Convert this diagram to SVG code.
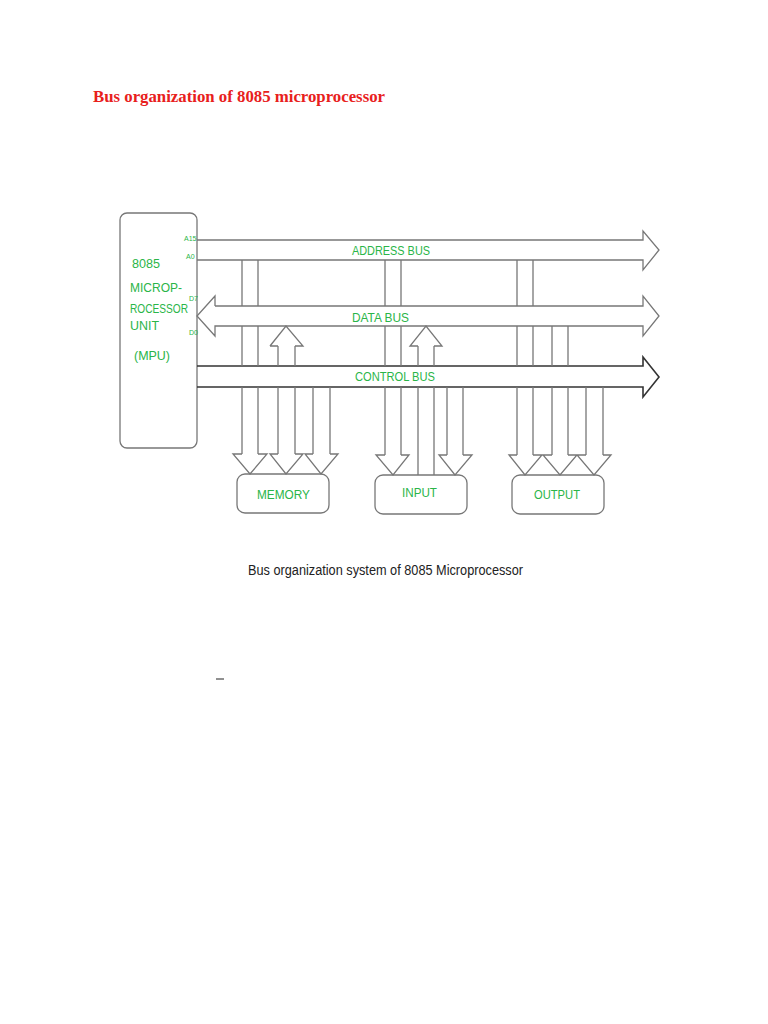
<svg xmlns="http://www.w3.org/2000/svg" width="768" height="1024" viewBox="0 0 768 1024">
<style>
.l{fill:none;stroke:#777;stroke-width:1.3}
.c{fill:none;stroke:#333;stroke-width:1.6}
.g{fill:#2ab548;font-family:"Liberation Sans",Arial,sans-serif;font-size:13px}
.s{fill:#2ab548;font-family:"Liberation Sans",Arial,sans-serif;font-size:7px}
</style>
<rect width="768" height="1024" fill="#fff"/>
<text x="93" y="102" font-family="Liberation Serif,serif" font-weight="bold" font-size="16" fill="#e8201c" textLength="292" lengthAdjust="spacingAndGlyphs">Bus organization of 8085 microprocessor</text>
<g id="mpu">
<rect x="120" y="213" width="77" height="235" rx="7" class="l"/>
<text class="g" x="132" y="268" textLength="28" lengthAdjust="spacingAndGlyphs">8085</text>
<text class="g" x="130" y="292" textLength="52" lengthAdjust="spacingAndGlyphs">MICROP-</text>
<text class="g" x="130" y="313" textLength="58" lengthAdjust="spacingAndGlyphs">ROCESSOR</text>
<text class="g" x="130" y="330" textLength="29" lengthAdjust="spacingAndGlyphs">UNIT</text>
<text class="g" x="134" y="360" textLength="36" lengthAdjust="spacingAndGlyphs">(MPU)</text>
<text class="s" x="184" y="241">A15</text>
<text class="s" x="186" y="259">A0</text>
<text class="s" x="189" y="301">D7</text>
<text class="s" x="189" y="335">D0</text>
</g>
<g id="buses">
<polyline class="l" points="197,240 643,240 643,231 659,250 643,270 643,260 197,260"/>
<polyline class="l" points="215,306 643,306 643,296 659,316 643,336 643,326 215,326 215,336 197,316 215,296 215,306"/>
<polyline class="c" points="197,366 643,366 643,357 659,377 643,397 643,387 197,387"/>
<text class="g" x="352" y="255" textLength="78" lengthAdjust="spacingAndGlyphs">ADDRESS BUS</text>
<text class="g" x="352" y="322" textLength="57" lengthAdjust="spacingAndGlyphs">DATA BUS</text>
<text class="g" x="355" y="381" textLength="80" lengthAdjust="spacingAndGlyphs">CONTROL BUS</text>
</g>
<g id="connectors" class="l">
<path d="M242,260V306M258,260V306M242,326V366M258,326V366M242,387V454M258,387V454"/>
<path d="M278,346V366M295,346V366M270,346L286,326L303,346H295M278,346H270"/>
<path d="M278,387V454M295,387V454M313,387V454M330,387V454"/>
<path d="M242,454H233L250,474L267,454H258M278,454H270L286,474L303,454H295M313,454H305L321,474L338,454H330"/>
<path d="M385,260V306M401,260V306M385,326V366M401,326V366M385,387V455M401,387V455"/>
<path d="M418,346V366M434,346V366M418,346H410L426,326L442,346H434M418,387V475M434,387V475"/>
<path d="M447,387V455M463,387V455"/>
<path d="M385,455H376L393,475L409,455H401M447,455H439L455,475L472,455H463"/>
<path d="M517,260V306M533,260V306M517,326V366M533,326V366M552,326V366M568,326V366"/>
<path d="M517,387V455M533,387V455M552,387V455M568,387V455M586,387V455M603,387V455"/>
<path d="M517,455H509L525,475L542,455H533M552,455H543L560,475L577,455H568M586,455H577L594,475L611,455H603"/>
</g>
<g id="memory"><rect x="237" y="474" width="92" height="39" rx="8" class="l"/><text class="g" x="257" y="499" textLength="53" lengthAdjust="spacingAndGlyphs">MEMORY</text></g>
<g id="input"><rect x="375" y="475" width="92" height="39" rx="8" class="l"/><text class="g" x="402" y="497" textLength="35" lengthAdjust="spacingAndGlyphs">INPUT</text></g>
<g id="output"><rect x="512" y="475" width="92" height="39" rx="8" class="l"/><text class="g" x="534" y="499" textLength="46" lengthAdjust="spacingAndGlyphs">OUTPUT</text></g>
<text x="248" y="575" font-family="Liberation Sans,Arial,sans-serif" font-size="14" fill="#222" textLength="275" lengthAdjust="spacingAndGlyphs">Bus organization system of 8085 Microprocessor</text>
<line x1="216" y1="679" x2="224" y2="679" stroke="#222" stroke-width="1"/>
</svg>
